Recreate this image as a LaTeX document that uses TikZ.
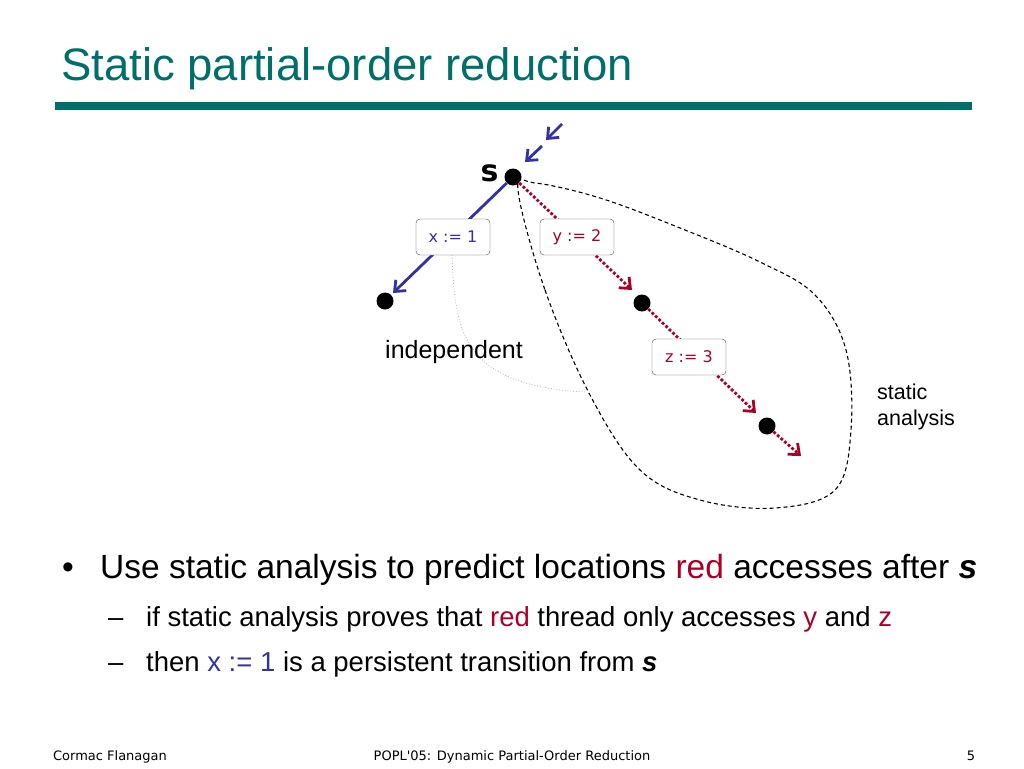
\documentclass[tikz,border=0pt]{standalone}
\usepackage{fontspec}
\setmainfont{Liberation Sans}
\newfontfamily\vfont{DejaVu Sans}
\usetikzlibrary{arrows.meta}
\definecolor{teal1}{RGB}{0,110,105}
\definecolor{redc}{RGB}{170,0,40}
\definecolor{bluec}{RGB}{50,50,160}
\tikzset{
 dotn/.style={circle,fill=black,inner sep=0pt,minimum size=17pt},
 lab/.style={draw=black!70,rounded corners=4pt,fill=white,font=\vfont\fontsize{16}{18}\selectfont,minimum width=74pt,minimum height=36pt,inner sep=0pt},
 bl/.style={bluec,line width=2.8pt,-{Straight Barb[length=9pt,width=15pt]}},
 rd/.style={redc,line width=2.8pt,dotted,-{Straight Barb[length=9pt,width=15pt]}},
 bigtxt/.style={font=\fontsize{33.5}{38}\selectfont,anchor=base west},
 subtxt/.style={font=\fontsize{27.5}{30}\selectfont,anchor=base west},
 foot/.style={font=\vfont\fontsize{13}{15}\selectfont,anchor=base}
}
\begin{document}
\begin{tikzpicture}[x=1pt,y=-1pt]
\useasboundingbox (0,0) rectangle (1024,768);
\node[anchor=base west,text=teal1,font=\fontsize{45.5}{50}\selectfont,inner sep=0] (title) at (61,80) {Static partial-order reduction};
\fill[teal1] (55,102) rectangle (972,110);
% blob
\draw[dash pattern=on 4pt off 3pt,line width=1.1pt] plot[smooth cycle,tension=0.6] coordinates{(518,190)(545,290)(590,395)(640,470)(700,500)(775,508)(835,490)(851,430)(846,350)(815,295)(760,262)(680,228)(600,198)(535,183)};
\draw[gray!60,dotted,line width=0.8pt] (452,255) .. controls (455,330) and (460,385) .. (585,392);
\node[dotn] (s) at (513,177) {};
\node[font=\vfont\fontsize{30}{36}\selectfont\bfseries,anchor=east] (sl) at (502,173) {s};
\node[dotn] (a) at (385,301) {};
\node[dotn] (b) at (642,303) {};
\node[dotn] (c) at (767,426) {};
\coordinate (i1) at (562,124);
\coordinate (i1e) at (546,140);
\coordinate (i2) at (542,146);
\coordinate (i2e) at (525,162);
\coordinate (e) at (801,456);
\draw[bl] (i1) -- (i1e);
\draw[bl] (i2) -- (i2e);
\draw[bl] (s) -- ([shift={(8,-8)}]a.center);
\draw[rd] (s) -- ([shift={(-10,-13)}]b.center);
\draw[rd] (b) -- ([shift={(-11,-13)}]c.center);
\draw[rd] (c) -- (e);
\node[lab,text=bluec] (x1) at (453,237) {x := 1};
\node[lab,text=redc] (y2) at (577,237) {y := 2};
\node[lab,text=redc] (z3) at (689,357) {z := 3};
\node[font=\fontsize{25}{28}\selectfont,anchor=base west,inner sep=0] (ind) at (385,358) {independent};
\node[font=\fontsize{21.5}{26}\selectfont,align=left,anchor=north west,inner sep=0] (sa) at (877,384) {static\\analysis};
\node[bigtxt,inner sep=0] (b1) at (62,578) {•};
\node[bigtxt,inner sep=0] (t1) at (100,578) {Use static analysis to predict locations \textcolor{redc}{red} accesses after \textbf{\textit{s}}};
\node[subtxt,inner sep=0] (d1) at (108,626) {–};
\node[subtxt,inner sep=0] (t2) at (146,626) {if static analysis proves that \textcolor{redc}{red} thread only accesses \textcolor{redc}{y} and \textcolor{redc}{z}};
\node[subtxt,inner sep=0] (d2) at (108,671) {–};
\node[subtxt,inner sep=0] (t3) at (146,671) {then \textcolor{bluec}{x := 1} is a persistent transition from \textbf{\textit{s}}};
\node[foot] (f1) at (110,760) {Cormac Flanagan};
\node[foot] (f2) at (512,760) {POPL'05: Dynamic Partial-Order Reduction};
\node[foot] (f3) at (971,760) {5};
\end{tikzpicture}
\end{document}
